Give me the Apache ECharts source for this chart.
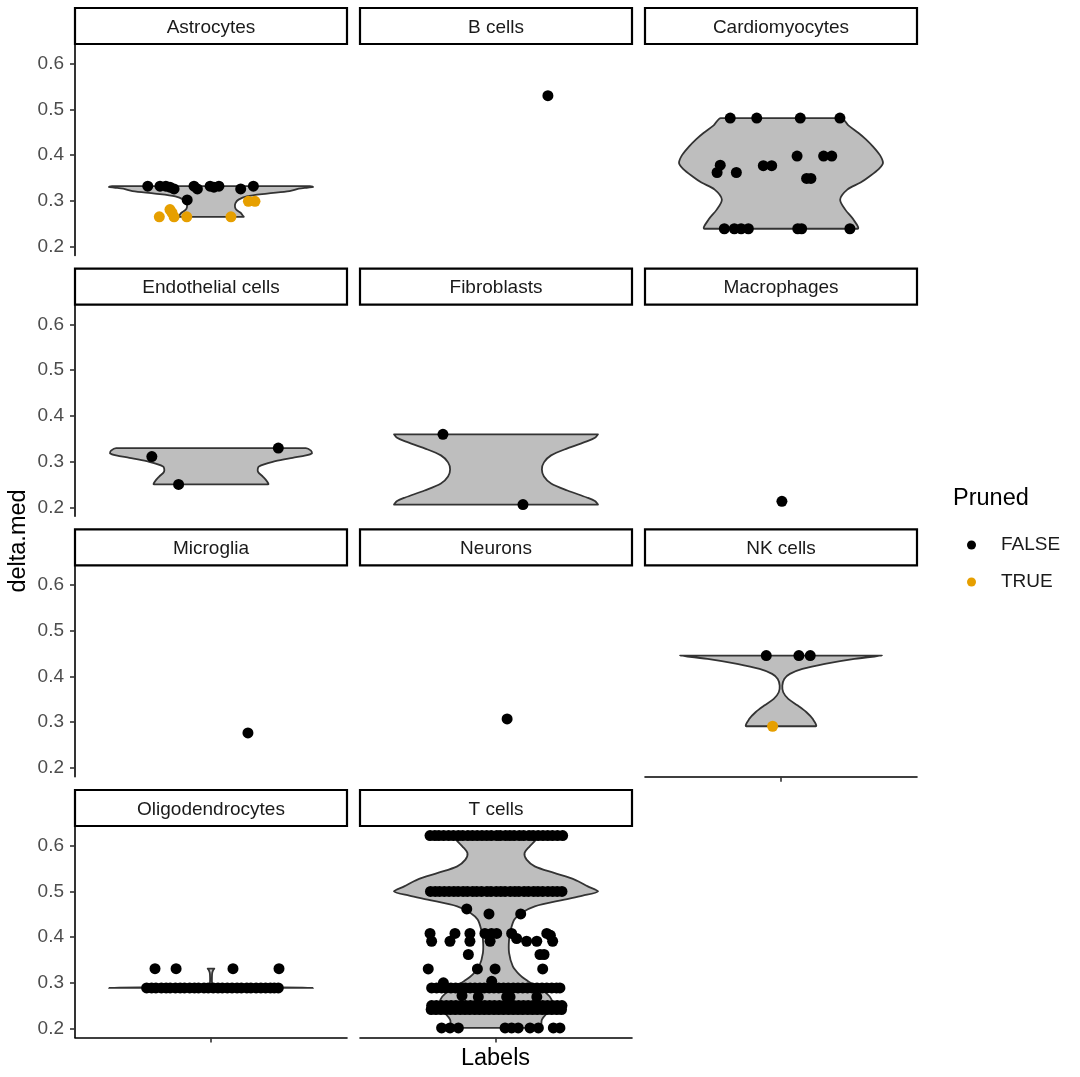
<!DOCTYPE html>
<html><head><meta charset="utf-8">
<script src="https://cdn.jsdelivr.net/npm/echarts@6/dist/echarts.min.js"></script>
<style>html,body{margin:0;padding:0;background:#fff}#chart{width:1080px;height:1077px}</style>
</head><body><div id="chart"></div>
<script>
// ---------------- DATA ----------------
const panelNames = ['Astrocytes','B cells','Cardiomyocytes','Endothelial cells','Fibroblasts','Macrophages','Microglia','Neurons','NK cells','Oligodendrocytes','T cells'];
const yTicks = [0.2, 0.3, 0.4, 0.5, 0.6];
const legendLabels = ['FALSE', 'TRUE'];
const legendTitle = 'Pruned';
const xTitle = 'Labels';
const yTitle = 'delta.med';

// points: [jittered x offset, delta.med]
const astrocytesFalse = [[-0.279,0.332],[-0.225,0.332],[-0.199,0.332],[-0.181,0.330],[-0.163,0.326],[-0.105,0.302],[-0.075,0.332],[-0.060,0.326],[-0.004,0.332],[0.013,0.330],[0.035,0.332],[0.131,0.326],[0.187,0.332]];
const astrocytesTrue = [[-0.228,0.265],[-0.181,0.281],[-0.172,0.274],[-0.163,0.265],[-0.107,0.265],[0.088,0.265],[0.165,0.299],[0.194,0.299]];
const bCellsFalse = [[0.229,0.530]];
const cardiomyocytesFalse = [[-0.224,0.481],[-0.107,0.481],[0.085,0.481],[0.260,0.481],
  [-0.268,0.378],[-0.282,0.362],[-0.197,0.362],[-0.078,0.377],[-0.041,0.377],[0.071,0.398],[0.188,0.398],[0.224,0.398],[0.113,0.349],[0.132,0.349],
  [-0.250,0.239],[-0.206,0.239],[-0.176,0.239],[-0.144,0.239],[0.074,0.239],[0.091,0.239],[0.304,0.239]];
const endothelialFalse = [[-0.261,0.311],[-0.143,0.250],[0.297,0.3295]];
const fibroblastsFalse = [[-0.234,0.3596],[0.119,0.206]];
const macrophagesFalse = [[0.004,0.213]];
const microgliaFalse = [[0.163,0.2765]];
const neuronsFalse = [[0.049,0.307]];
const nkFalse = [[-0.065,0.4455],[0.079,0.4455],[0.129,0.4455]];
const nkTrue = [[-0.037,0.291]];
const oligoFalse = [[-0.247,0.331],[-0.154,0.331],[0.097,0.331],[0.300,0.331],
  [-0.284,0.289],[-0.262,0.289],[-0.243,0.289],[-0.219,0.289],[-0.198,0.289],[-0.180,0.289],[-0.157,0.289],[-0.136,0.289],[-0.117,0.289],[-0.094,0.289],
  [-0.073,0.289],[-0.055,0.289],[-0.031,0.289],[-0.012,0.289],[0.010,0.289],[0.031,0.289],[0.050,0.289],[0.072,0.289],[0.093,0.289],[0.115,0.289],
  [0.134,0.289],[0.158,0.289],[0.176,0.289],[0.199,0.289],[0.220,0.289],[0.241,0.289],[0.262,0.289],[0.279,0.289],[0.297,0.289]];
const tCellsFalse = [
  // 0.622 band
  [-0.291,0.622],[-0.270,0.622],[-0.252,0.622],[-0.231,0.622],[-0.209,0.622],[-0.188,0.622],[-0.166,0.622],[-0.147,0.622],[-0.124,0.622],[-0.104,0.622],
  [-0.083,0.622],[-0.062,0.622],[-0.041,0.622],[-0.021,0.622],[0.003,0.622],[0.019,0.622],[0.042,0.622],[0.061,0.622],[0.080,0.622],[0.103,0.622],
  [0.122,0.622],[0.146,0.622],[0.164,0.622],[0.186,0.622],[0.207,0.622],[0.228,0.622],[0.249,0.622],[0.271,0.622],[0.294,0.622],
  // 0.500 band
  [-0.289,0.500],[-0.268,0.500],[-0.249,0.500],[-0.228,0.500],[-0.207,0.500],[-0.186,0.500],[-0.167,0.500],[-0.145,0.500],[-0.126,0.500],[-0.103,0.500],
  [-0.085,0.500],[-0.064,0.500],[-0.040,0.500],[-0.022,0.500],[0.001,0.500],[0.021,0.500],[0.040,0.500],[0.063,0.500],[0.083,0.500],[0.101,0.500],
  [0.124,0.500],[0.143,0.500],[0.166,0.500],[0.185,0.500],[0.206,0.500],[0.229,0.500],[0.250,0.500],[0.270,0.500],[0.291,0.500],
  [-0.129,0.4616],[-0.031,0.4506],[0.109,0.4506],
  [-0.291,0.408],[-0.181,0.408],[-0.115,0.408],[-0.049,0.408],[-0.020,0.408],[0.003,0.408],[0.069,0.408],[0.224,0.408],[0.240,0.404],
  [-0.284,0.391],[-0.203,0.391],[-0.115,0.391],[-0.026,0.391],[0.091,0.397],[0.135,0.391],[0.180,0.391],[0.250,0.391],
  [-0.122,0.362],[0.194,0.362],[0.212,0.362],
  [-0.299,0.3305],[-0.082,0.3305],[-0.004,0.3305],[0.206,0.3305],
  [-0.019,0.3034],[-0.232,0.300],
  // 0.289 band
  [-0.284,0.289],[-0.262,0.289],[-0.240,0.289],[-0.221,0.289],[-0.199,0.289],[-0.178,0.289],[-0.157,0.289],[-0.135,0.289],[-0.114,0.289],[-0.093,0.289],
  [-0.071,0.289],[-0.052,0.289],[-0.030,0.289],[-0.009,0.289],[0.012,0.289],[0.033,0.289],[0.054,0.289],[0.076,0.289],[0.097,0.289],[0.118,0.289],
  [0.139,0.289],[0.160,0.289],[0.181,0.289],[0.203,0.289],[0.224,0.289],[0.246,0.289],[0.267,0.289],[0.282,0.289],
  [-0.078,0.2693],[0.047,0.2693],[0.062,0.2693],[0.180,0.2693],[-0.150,0.272],
  // 0.250 band
  [-0.284,0.2503],[-0.263,0.2503],[-0.241,0.2503],[-0.219,0.2503],[-0.198,0.2503],[-0.177,0.2503],[-0.156,0.2503],[-0.134,0.2503],[-0.113,0.2503],[-0.092,0.2503],
  [-0.070,0.2503],[-0.049,0.2503],[-0.028,0.2503],[-0.007,0.2503],[0.015,0.2503],[0.036,0.2503],[0.057,0.2503],[0.079,0.2503],[0.100,0.2503],[0.121,0.2503],
  [0.142,0.2503],[0.163,0.2503],[0.185,0.2503],[0.206,0.2503],[0.227,0.2503],[0.249,0.2503],[0.270,0.2503],[0.291,0.2503],
  // 0.242 band
  [-0.286,0.2415],[-0.265,0.2415],[-0.243,0.2415],[-0.222,0.2415],[-0.201,0.2415],[-0.180,0.2415],[-0.158,0.2415],[-0.137,0.2415],[-0.116,0.2415],[-0.094,0.2415],
  [-0.073,0.2415],[-0.052,0.2415],[-0.031,0.2415],[-0.009,0.2415],[0.012,0.2415],[0.033,0.2415],[0.055,0.2415],[0.076,0.2415],[0.097,0.2415],[0.118,0.2415],
  [0.140,0.2415],[0.161,0.2415],[0.182,0.2415],[0.204,0.2415],[0.225,0.2415],[0.246,0.2415],[0.268,0.2415],[0.289,0.2415],
  // 0.2015 row
  [-0.240,0.2015],[-0.203,0.2015],[-0.166,0.2015],[0.040,0.2015],[0.069,0.2015],[0.098,0.2015],[0.150,0.2015],[0.187,0.2015],[0.253,0.2015],[0.282,0.2015]];

// violin outlines: [delta.med, relative half-width (1 = widest)]
const astrocytesViolin = [[0.332,0.97],[0.3305,1.0],[0.329,0.95],[0.3265,0.86],[0.3215,0.77],[0.316,0.55],[0.310,0.35],[0.3027,0.27],[0.295,0.24],[0.287,0.235],[0.280,0.25],[0.274,0.29],[0.268,0.31],[0.265,0.32]];
const cardiomyocytesViolin = [[0.481,0.59],[0.465,0.66],[0.4485,0.76],[0.435,0.83],[0.4192,0.90],[0.40,0.97],[0.383,1.0],[0.37,0.96],[0.3537,0.87],[0.34,0.78],[0.3246,0.65],[0.3027,0.58],[0.2808,0.63],[0.259,0.71],[0.239,0.75]];
const endothelialViolin = [[0.3295,0.93],[0.3239,0.98],[0.3182,0.99],[0.3134,0.93],[0.3082,0.80],[0.3007,0.63],[0.2893,0.47],[0.2780,0.46],[0.2667,0.51],[0.2566,0.55],[0.250,0.56]];
const fibroblastsViolin = [[0.3596,1.0],[0.3519,0.97],[0.3442,0.89],[0.3289,0.70],[0.3135,0.54],[0.2982,0.47],[0.2828,0.45],[0.2674,0.47],[0.2521,0.54],[0.2367,0.70],[0.2214,0.89],[0.2137,0.97],[0.206,1.0]];
const nkViolin = [[0.4455,0.99],[0.4382,0.72],[0.4273,0.43],[0.4163,0.21],[0.4055,0.087],[0.3945,0.032],[0.3799,0.013],[0.3654,0.022],[0.3508,0.071],[0.3362,0.165],[0.3217,0.25],[0.3072,0.31],[0.291,0.34]];
const oligoViolin = [[0.3311,0.032],[0.329,0.024],[0.322,0.012],[0.31,0.009],[0.30,0.010],[0.295,0.016],[0.2928,0.04],[0.2915,0.13],[0.2905,0.5],[0.2897,0.9],[0.289,1.0]];
const tCellsViolin = [[0.622,0.39],[0.613,0.39],[0.5985,0.33],[0.584,0.28],[0.5694,0.30],[0.5548,0.38],[0.5403,0.57],[0.5257,0.77],[0.511,0.90],[0.5001,1.0],[0.4907,0.85],[0.482,0.67],[0.4673,0.38],[0.4529,0.25],[0.4383,0.18],[0.4164,0.145],[0.3945,0.128],[0.3654,0.128],[0.3362,0.165],[0.318,0.23],[0.3071,0.29],[0.2925,0.39],[0.278,0.49],[0.2634,0.545],[0.2488,0.545],[0.235,0.505],[0.2197,0.45],[0.2015,0.43]];

// ---------------- LAYOUT / STYLE ----------------
const FONT = '"Liberation Sans", Arial, Helvetica, sans-serif';
const colLeft = [75, 360, 645];
const rowTop = [44, 304.7, 565.3, 826];
const panelW = 272, panelH = 211.5, stripH = 36;
const MAXHW = 0.45;
const PT = 11;

const panels = [
  {f: astrocytesFalse, t: astrocytesTrue, v: astrocytesViolin},
  {f: bCellsFalse, t: [], v: null},
  {f: cardiomyocytesFalse, t: [], v: cardiomyocytesViolin},
  {f: endothelialFalse, t: [], v: endothelialViolin},
  {f: fibroblastsFalse, t: [], v: fibroblastsViolin},
  {f: macrophagesFalse, t: [], v: null},
  {f: microgliaFalse, t: [], v: null},
  {f: neuronsFalse, t: [], v: null},
  {f: nkFalse, t: nkTrue, v: nkViolin},
  {f: oligoFalse, t: [], v: oligoViolin},
  {f: tCellsFalse, t: [], v: tCellsViolin}
];

// y range from data, expanded 5% like ggplot
let allY = [];
panels.forEach(p => { p.f.concat(p.t).forEach(d => allY.push(d[1])); });
const dMin = Math.min.apply(null, allY), dMax = Math.max.apply(null, allY);
const yMin = dMin - 0.05 * (dMax - dMin), yMax = dMax + 0.05 * (dMax - dMin);

const grids = [], xAxes = [], yAxes = [], series = [], graphics = [];
const nPanels = panelNames.length;
panelNames.forEach((name, i) => {
  const c = i % 3, r = Math.floor(i / 3);
  const left = colLeft[c], top = rowTop[r];
  grids.push({left: left, top: top, width: panelW, height: panelH});
  const bottomOfCol = (i + 3 >= nPanels);
  xAxes.push({
    gridIndex: i, type: 'value', min: -0.6, max: 0.6, show: bottomOfCol,
    axisLine: {show: true, onZero: false, lineStyle: {color: '#000', width: 1.6}},
    axisTick: {show: true, customValues: [0], length: 5, lineStyle: {color: '#333', width: 1.6}},
    axisLabel: {show: false}, splitLine: {show: false}
  });
  yAxes.push({
    gridIndex: i, type: 'value', min: yMin, max: yMax, show: c === 0,
    axisLine: {show: true, onZero: false, lineStyle: {color: '#000', width: 1.6}},
    axisTick: {show: true, customValues: yTicks, length: 5, lineStyle: {color: '#333', width: 1.6}},
    axisLabel: {show: true, customValues: yTicks, formatter: v => v.toFixed(1), color: '#4D4D4D', fontSize: 19, fontFamily: FONT, margin: 11},
    splitLine: {show: false}
  });
  const p = panels[i];
  if (p.v) {
    const prof = p.v;
    series.push({
      type: 'custom', xAxisIndex: i, yAxisIndex: i, silent: true, z: 1,
      data: prof.map(d => [d[1] * MAXHW, d[0]]), encode: {x: 0, y: 1},
      renderItem: function (params, api) {
        if (params.dataIndex !== 0) return null;
        const L = [], R = [];
        prof.forEach(d => {
          L.push(api.coord([-d[1] * MAXHW, d[0]]));
          R.push(api.coord([d[1] * MAXHW, d[0]]));
        });
        const pts = L.concat(R.reverse());
        return {type: 'polygon', shape: {points: pts, smooth: 0.3, smoothConstraint: [pts[0].slice(), pts[0].slice()]},
          style: {fill: '#BEBEBE', stroke: '#333333', lineWidth: 1.8, lineJoin: 'round'}};
      }
    });
  }
  series.push({type: 'scatter', name: legendLabels[0], xAxisIndex: i, yAxisIndex: i, data: p.f, symbolSize: PT, silent: true, z: 3, itemStyle: {color: '#000000', opacity: 1}});
  series.push({type: 'scatter', name: legendLabels[1], xAxisIndex: i, yAxisIndex: i, data: p.t, symbolSize: PT, silent: true, z: 4, itemStyle: {color: '#E69F00', opacity: 1}});
  // strip
  graphics.push({type: 'rect', shape: {x: left, y: top - stripH, width: panelW, height: stripH}, style: {fill: '#fff', stroke: '#000', lineWidth: 2.2}, z: 10});
  graphics.push({type: 'text', x: left + panelW / 2, y: top - stripH / 2 + 1.5, style: {text: name, fill: '#1A1A1A', font: '19px ' + FONT, textAlign: 'center', textVerticalAlign: 'middle'}, z: 11});
});

graphics.push({type: 'text', x: 19, y: 541, rotation: Math.PI / 2, style: {text: yTitle, fill: '#000', font: '23.5px ' + FONT, textAlign: 'center', textVerticalAlign: 'middle'}});
graphics.push({type: 'text', x: 495.5, y: 1059, style: {text: xTitle, fill: '#000', font: '23.5px ' + FONT, textAlign: 'center', textVerticalAlign: 'middle'}});
graphics.push({type: 'text', x: 953, y: 499, style: {text: legendTitle, fill: '#000', font: '23.5px ' + FONT, textAlign: 'left', textVerticalAlign: 'middle'}});

const chart = echarts.init(document.getElementById('chart'), null, {renderer: 'canvas'});
chart.setOption({
  animation: false,
  backgroundColor: '#fff',
  grid: grids, xAxis: xAxes, yAxis: yAxes, series: series,
  legend: {data: legendLabels, orient: 'vertical', left: 962, top: 529, icon: 'circle', itemWidth: 9, itemHeight: 9, itemGap: 15, selectedMode: false,
    textStyle: {fontSize: 19, color: '#1A1A1A', fontFamily: FONT, lineHeight: 22, padding: [0, 0, 0, 20]}},
  graphic: graphics
});
</script></body></html>
